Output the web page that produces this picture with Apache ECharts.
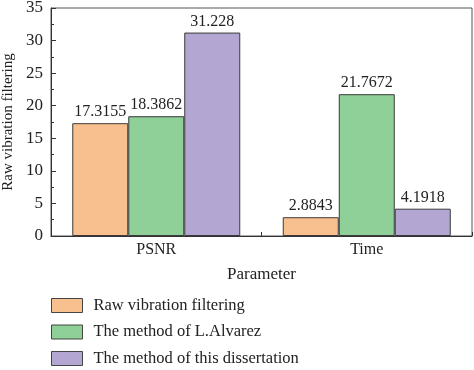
<!DOCTYPE html>
<html><head><meta charset="utf-8">
<script src="https://cdn.jsdelivr.net/npm/echarts@6/dist/echarts.min.js"></script>
<style>html,body{margin:0;padding:0;background:#fff}#c{width:474px;height:370px}</style>
</head><body><div id="c"></div>
<script>
const categories = ['PSNR', 'Time'];
const seriesNames = ['Raw vibration filtering', 'The method of L.Alvarez', 'The method of this dissertation'];
const rawValues = [17.3155, 2.8843];
const alvarezValues = [18.3862, 21.7672];
const dissertationValues = [31.228, 4.1918];
const labelTexts = [['17.3155', '2.8843'], ['18.3862', '21.7672'], ['31.228', '4.1918']];
const colors = ['#F9C08F', '#8FCF98', '#B3A6D3'];
const FONT = 'Liberation Serif';

const chart = echarts.init(document.getElementById('c'));
const dataSets = [rawValues, alvarezValues, dissertationValues];
chart.setOption({
  animation: false,
  textStyle: {fontFamily: FONT},
  grid: {left: 51, right: 2, top: 8, bottom: 134, show: true, borderColor: '#555', borderWidth: 1,
         containLabel: false, outerBoundsMode: 'none'},
  legend: {
    orient: 'vertical', left: 51, top: 297, padding: 0, height: 80,
    itemWidth: 31, itemHeight: 14, itemGap: 9.5,
    icon: 'rect',
    itemStyle: {borderColor: '#444', borderWidth: 1},
    textStyle: {fontFamily: FONT, fontSize: 16.5, color: '#222', padding: [0, 0, 0, 6]},
    data: seriesNames
  },
  xAxis: {
    type: 'category', data: categories,
    name: 'Parameter', nameLocation: 'middle', nameGap: 30,
    nameTextStyle: {fontFamily: FONT, fontSize: 17, color: '#222'},
    axisLine: {lineStyle: {color: '#333', width: 1}},
    axisTick: {show: true, inside: true, length: 4, lineStyle: {color: '#333'}},
    axisLabel: {fontFamily: FONT, fontSize: 16, color: '#222', margin: 6}
  },
  yAxis: {
    type: 'value', min: 0, max: 35, interval: 5,
    name: 'Raw vibration filtering', nameLocation: 'middle', nameGap: 27,
    nameTextStyle: {fontFamily: FONT, fontSize: 15, color: '#222'},
    axisLine: {show: true, lineStyle: {color: '#333', width: 1}},
    axisTick: {show: true, inside: true, length: 5, lineStyle: {color: '#333'}},
    minorTick: {show: true, splitNumber: 2, length: 3, lineStyle: {color: '#333'}},
    splitLine: {show: false},
    axisLabel: {fontFamily: FONT, fontSize: 17, color: '#222', margin: 8}
  },
  series: seriesNames.map((n, i) => ({
    name: n, type: 'bar', barWidth: 56, barGap: '0%',
    data: dataSets[i],
    itemStyle: {color: colors[i], borderColor: '#3a3a3a', borderWidth: 1},
    label: {
      show: true, position: 'top', distance: 3,
      fontFamily: FONT, fontSize: 16, color: '#222',
      formatter: p => labelTexts[i][p.dataIndex]
    }
  }))
});
</script></body></html>
